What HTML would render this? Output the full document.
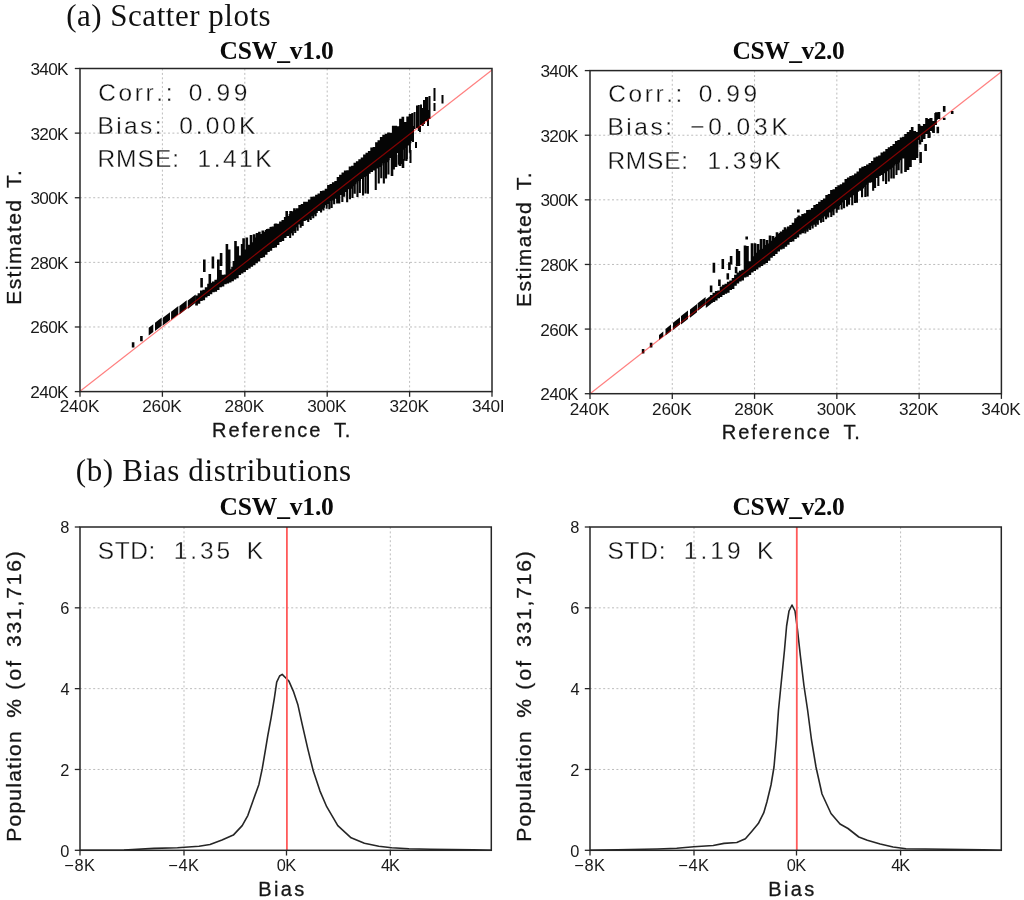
<!DOCTYPE html>
<html><head><meta charset="utf-8"><title>Scatter plots and bias distributions</title>
<style>html,body{margin:0;padding:0;background:#fff;overflow:hidden;} svg{display:block;will-change:transform;}</style></head>
<body><svg width="1024" height="900" viewBox="0 0 1024 900">
<rect width="1024" height="900" fill="#fff"/>
<text transform="translate(0,26.00) scale(1.0000,1)" x="66.14" y="0" font-family='"Liberation Serif", serif' font-size="31" font-weight="normal" letter-spacing="0.514" fill="#111" style="font-kerning:none" >(a) Scatter plots</text>
<text transform="translate(0,480.60) scale(1.0000,1)" x="75.74" y="0" font-family='"Liberation Serif", serif' font-size="31" font-weight="normal" letter-spacing="0.648" fill="#111" style="font-kerning:none" >(b) Bias distributions</text>
<text transform="translate(0,59.00) scale(1.0000,1)" x="219.55" y="0" font-family='"Liberation Serif", serif' font-size="25.5" font-weight="bold" letter-spacing="-0.165" fill="#0a0a0a" style="font-kerning:none" >CSW_v1.0</text>
<text transform="translate(0,59.00) scale(1.0000,1)" x="732.45" y="0" font-family='"Liberation Serif", serif' font-size="25.5" font-weight="bold" letter-spacing="-0.451" fill="#0a0a0a" style="font-kerning:none" >CSW_v2.0</text>
<text transform="translate(0,514.70) scale(1.0000,1)" x="219.55" y="0" font-family='"Liberation Serif", serif' font-size="25.5" font-weight="bold" letter-spacing="-0.165" fill="#0a0a0a" style="font-kerning:none" >CSW_v1.0</text>
<text transform="translate(0,514.70) scale(1.0000,1)" x="732.45" y="0" font-family='"Liberation Serif", serif' font-size="25.5" font-weight="bold" letter-spacing="-0.451" fill="#0a0a0a" style="font-kerning:none" >CSW_v2.0</text>
<defs><clipPath id="clipL"><rect x="0" y="0" width="503.0" height="900"/></clipPath></defs>
<line x1="162.40" y1="68.50" x2="162.40" y2="391.60" stroke="#bdbdbd" stroke-width="1" stroke-dasharray="2,2.4"/>
<line x1="80.00" y1="326.98" x2="492.00" y2="326.98" stroke="#bdbdbd" stroke-width="1" stroke-dasharray="2,2.4"/>
<line x1="244.80" y1="68.50" x2="244.80" y2="391.60" stroke="#bdbdbd" stroke-width="1" stroke-dasharray="2,2.4"/>
<line x1="80.00" y1="262.36" x2="492.00" y2="262.36" stroke="#bdbdbd" stroke-width="1" stroke-dasharray="2,2.4"/>
<line x1="327.20" y1="68.50" x2="327.20" y2="391.60" stroke="#bdbdbd" stroke-width="1" stroke-dasharray="2,2.4"/>
<line x1="80.00" y1="197.74" x2="492.00" y2="197.74" stroke="#bdbdbd" stroke-width="1" stroke-dasharray="2,2.4"/>
<line x1="409.60" y1="68.50" x2="409.60" y2="391.60" stroke="#bdbdbd" stroke-width="1" stroke-dasharray="2,2.4"/>
<line x1="80.00" y1="133.12" x2="492.00" y2="133.12" stroke="#bdbdbd" stroke-width="1" stroke-dasharray="2,2.4"/>
<path d="M195.2 295.6h2.7v9.8h-2.7zM197.6 293.2h2.7v10.6h-2.7zM200.0 290.4h2.7v10.7h-2.7zM202.4 289.7h2.7v10.6h-2.7zM204.8 287.2h2.7v10.3h-2.7zM207.2 283.8h2.7v12.2h-2.7zM209.6 282.7h2.7v11.6h-2.7zM212.0 281.6h2.7v10.6h-2.7zM214.4 279.8h2.7v11.9h-2.7zM216.8 278.4h2.7v11.5h-2.7zM219.2 276.5h2.7v10.8h-2.7zM221.6 274.8h2.7v11.8h-2.7zM224.0 274.4h2.7v9.9h-2.7zM226.4 270.9h2.7v12.6h-2.7zM228.8 269.2h2.7v13.4h-2.7zM231.2 266.8h2.7v14.5h-2.7zM233.6 263.7h2.7v15.9h-2.7zM236.0 259.7h2.7v18.5h-2.7zM238.4 255.4h2.7v19.7h-2.7zM240.8 254.4h2.7v19.1h-2.7zM243.2 249.4h2.7v22.7h-2.7zM245.6 247.3h2.7v22.7h-2.7zM248.0 244.7h2.7v23.7h-2.7zM250.4 242.2h2.7v24.5h-2.7zM252.8 239.6h2.7v25.6h-2.7zM255.2 237.5h2.7v25.8h-2.7zM257.6 235.2h2.7v26.2h-2.7zM260.0 233.9h2.7v24.2h-2.7zM262.4 231.8h2.7v25.5h-2.7zM264.8 230.0h2.7v24.7h-2.7zM267.1 228.8h2.7v23.3h-2.7zM269.5 226.9h2.7v23.8h-2.7zM271.9 226.6h2.7v21.3h-2.7zM274.3 223.6h2.7v23.8h-2.7zM276.7 223.8h2.7v21.2h-2.7zM279.1 221.4h2.7v20.7h-2.7zM281.5 220.0h2.7v21.0h-2.7zM283.9 217.0h2.7v21.0h-2.7zM286.3 216.0h2.7v19.9h-2.7zM288.7 214.0h2.7v20.3h-2.7zM291.1 211.3h2.7v21.7h-2.7zM293.5 210.0h2.7v20.9h-2.7zM295.9 208.2h2.7v19.2h-2.7zM298.3 205.1h2.7v19.4h-2.7zM300.7 204.1h2.7v19.0h-2.7zM303.1 201.7h2.7v19.3h-2.7zM305.5 201.7h2.7v18.6h-2.7zM307.9 199.6h2.7v19.1h-2.7zM310.3 196.8h2.7v19.3h-2.7zM312.7 196.5h2.7v18.0h-2.7zM315.1 194.7h2.7v18.2h-2.7zM317.5 193.4h2.7v17.7h-2.7zM319.9 190.9h2.7v18.3h-2.7zM322.3 190.4h2.7v17.4h-2.7zM324.7 188.8h2.7v16.5h-2.7zM327.1 185.0h2.7v19.0h-2.7zM329.5 184.0h2.7v17.4h-2.7zM331.9 182.2h2.7v18.3h-2.7zM334.3 180.9h2.7v17.9h-2.7zM336.7 177.1h2.7v19.1h-2.7zM339.1 174.8h2.7v20.2h-2.7zM341.5 172.5h2.7v20.6h-2.7zM343.9 170.4h2.7v21.6h-2.7zM346.3 170.2h2.7v19.0h-2.7zM348.7 166.6h2.7v22.1h-2.7zM351.1 165.7h2.7v20.5h-2.7zM353.5 162.8h2.7v21.5h-2.7zM355.9 161.2h2.7v21.3h-2.7zM358.3 159.2h2.7v21.9h-2.7zM360.7 157.5h2.7v21.6h-2.7zM363.1 154.4h2.7v22.5h-2.7zM365.5 152.8h2.7v23.4h-2.7zM367.9 150.9h2.7v22.8h-2.7zM370.3 147.5h2.7v24.5h-2.7zM372.7 146.9h2.7v23.6h-2.7zM375.1 142.3h2.7v26.1h-2.7zM377.5 140.3h2.7v26.6h-2.7zM379.9 137.0h2.7v28.4h-2.7zM382.3 134.8h2.7v28.5h-2.7zM384.7 133.8h2.7v28.4h-2.7zM387.1 132.5h2.7v27.8h-2.7zM389.5 132.7h2.7v25.4h-2.7zM391.9 125.8h2.7v30.6h-2.7zM394.3 125.7h2.7v30.0h-2.7zM396.7 126.3h2.7v26.8h-2.7zM399.1 118.8h2.7v33.1h-2.7zM401.5 116.8h2.7v33.0h-2.7zM403.9 121.9h2.7v25.9h-2.7zM406.3 116.5h2.7v29.0h-2.7zM408.7 113.9h2.7v29.4h-2.7zM131.8 342.2h2.6v5.3h-2.6zM140.1 336.0h2.6v5.2h-2.6zM200.3 277.9h2.6v9.7h-2.6zM203.0 259.6h2.6v12.4h-2.6zM208.5 274.0h2.6v9.7h-2.6zM211.6 256.5h2.6v12.0h-2.6zM217.0 259.6h2.6v20.4h-2.6zM219.8 253.0h2.6v13.0h-2.6zM219.2 270.0h2.6v12.0h-2.6zM225.6 244.0h2.6v32.0h-2.6zM227.9 249.5h2.6v23.5h-2.6zM232.6 261.0h2.6v10.0h-2.6zM234.2 240.9h2.6v27.1h-2.6zM236.5 246.3h2.6v18.7h-2.6zM238.8 257.0h2.6v5.0h-2.6zM240.8 244.0h2.6v14.0h-2.6zM242.3 238.2h2.6v19.8h-2.6zM245.5 237.4h2.6v18.6h-2.6zM247.4 247.9h2.6v4.1h-2.6zM249.7 235.0h2.6v15.0h-2.6zM252.8 234.3h2.6v13.7h-2.6zM255.7 233.0h2.6v13.0h-2.6zM258.1 231.7h2.6v12.3h-2.6zM261.5 230.5h2.6v12.5h-2.6zM263.7 232.0h2.6v8.0h-2.6zM265.9 228.9h2.6v7.1h-2.6zM268.2 231.0h2.6v5.0h-2.6zM270.4 226.7h2.6v7.3h-2.6zM273.7 223.9h2.6v6.1h-2.6zM276.7 226.0h2.6v3.0h-2.6zM279.7 224.0h2.6v4.0h-2.6zM282.6 220.5h2.6v6.5h-2.6zM285.4 211.1h2.6v10.9h-2.6zM289.3 211.0h2.6v9.0h-2.6zM293.1 208.3h2.6v6.7h-2.6zM390.7 160.0h2.6v16.0h-2.6zM394.7 155.0h2.6v12.0h-2.6zM398.7 150.0h2.6v16.0h-2.6zM401.7 159.0h2.6v9.0h-2.6zM405.5 140.0h2.0v21.0h-2.0zM409.5 150.0h2.0v13.0h-2.0zM412.0 126.0h2.0v16.0h-2.0zM415.0 142.0h2.0v6.0h-2.0zM419.0 126.0h2.0v6.0h-2.0zM427.0 110.0h2.0v16.0h-2.0zM433.5 88.0h2.0v13.0h-2.0zM433.5 103.0h2.0v8.0h-2.0zM441.5 95.0h2.0v8.5h-2.0zM425.0 97.0h2.0v24.0h-2.0zM428.5 96.0h2.0v23.0h-2.0zM420.0 104.5h2.0v20.5h-2.0zM416.0 105.5h2.0v22.5h-2.0zM423.0 100.0h2.0v24.0h-2.0zM417.8 105.0h2.0v26.0h-2.0zM421.8 108.0h2.0v18.0h-2.0zM411.3 113.0h2.0v28.0h-2.0zM413.6 112.0h2.0v17.0h-2.0zM426.2 97.0h2.0v15.0h-2.0zM289.1 232.9h2.1v5.0h-2.1zM291.8 230.5h2.1v5.0h-2.1zM294.2 228.1h2.1v5.0h-2.1zM296.6 225.7h2.1v5.0h-2.1zM299.6 222.8h2.1v5.0h-2.1zM301.6 220.9h2.1v5.0h-2.1zM307.2 217.1h2.1v5.0h-2.1zM309.7 215.1h2.1v5.0h-2.1zM312.2 213.2h2.1v5.0h-2.1zM314.6 211.3h2.1v5.0h-2.1zM320.0 207.5h2.1v5.0h-2.1zM322.4 205.6h2.1v5.0h-2.1zM325.6 203.7h2.1v5.1h-2.1zM328.3 201.8h2.1v7.5h-2.1zM330.6 199.9h2.1v8.0h-2.1zM333.1 198.0h2.1v6.2h-2.1zM336.1 196.1h2.1v7.5h-2.1zM338.2 194.1h2.1v9.3h-2.1zM341.3 192.2h2.1v9.9h-2.1zM343.2 190.3h2.1v6.4h-2.1zM346.1 188.4h2.1v13.8h-2.1zM348.9 186.5h2.1v12.8h-2.1zM351.4 184.6h2.1v13.5h-2.1zM353.7 182.7h2.1v11.0h-2.1zM356.4 180.8h2.1v16.3h-2.1zM358.8 178.9h2.1v14.0h-2.1zM362.0 177.0h2.1v18.4h-2.1zM364.5 175.1h2.1v18.4h-2.1zM366.9 173.3h2.1v20.5h-2.1zM374.7 167.7h2.1v22.4h-2.1zM377.7 165.8h2.1v17.8h-2.1zM380.2 164.0h2.1v14.2h-2.1zM382.8 162.1h2.1v21.3h-2.1zM385.0 160.2h2.1v18.4h-2.1zM387.4 158.4h2.1v16.0h-2.1zM390.7 156.5h2.1v19.6h-2.1zM392.8 154.6h2.1v14.8h-2.1zM397.8 150.9h2.1v13.8h-2.1zM401.0 149.0h2.1v15.1h-2.1zM403.3 147.2h2.1v13.6h-2.1zM405.8 144.8h2.1v14.4h-2.1zM408.8 142.2h2.1v10.6h-2.1z" fill="#050505"/>
<path d="M148.7 327.8L153.3 324.2L153.3 331.9L148.7 335.5zM155.0 322.8L161.7 317.5L161.7 325.8L155.0 331.1zM162.8 317.8L170.0 312.2L170.0 319.9L162.8 325.5zM171.1 311.7L178.3 306.1L178.3 314.4L171.1 320.0zM179.4 306.0L186.7 300.3L186.7 308.7L179.4 314.4zM187.8 300.5L195.6 294.4L195.6 302.8L187.8 308.9z" fill="#050505"/>
<line x1="80.00" y1="391.30" x2="492.00" y2="70.00" stroke="#ff0000" stroke-width="1.2" stroke-opacity="0.5"/>
<rect x="80.00" y="68.50" width="412.00" height="323.10" fill="none" stroke="#262626" stroke-width="1.5"/>
<line x1="80.00" y1="391.60" x2="80.00" y2="396.80" stroke="#262626" stroke-width="1.3" />
<line x1="74.80" y1="391.60" x2="80.00" y2="391.60" stroke="#262626" stroke-width="1.3" />
<text transform="translate(0,398.10) scale(1.0000,1)" x="30.23" y="0" font-family='"Liberation Sans", sans-serif' font-size="17.2" font-weight="normal" letter-spacing="-0.604" fill="#1a1a1a" style="font-kerning:none" >240K</text>
<line x1="162.40" y1="391.60" x2="162.40" y2="396.80" stroke="#262626" stroke-width="1.3" />
<line x1="74.80" y1="326.98" x2="80.00" y2="326.98" stroke="#262626" stroke-width="1.3" />
<text transform="translate(0,333.48) scale(1.0000,1)" x="30.23" y="0" font-family='"Liberation Sans", sans-serif' font-size="17.2" font-weight="normal" letter-spacing="-0.604" fill="#1a1a1a" style="font-kerning:none" >260K</text>
<line x1="244.80" y1="391.60" x2="244.80" y2="396.80" stroke="#262626" stroke-width="1.3" />
<line x1="74.80" y1="262.36" x2="80.00" y2="262.36" stroke="#262626" stroke-width="1.3" />
<text transform="translate(0,268.86) scale(1.0000,1)" x="30.23" y="0" font-family='"Liberation Sans", sans-serif' font-size="17.2" font-weight="normal" letter-spacing="-0.604" fill="#1a1a1a" style="font-kerning:none" >280K</text>
<line x1="327.20" y1="391.60" x2="327.20" y2="396.80" stroke="#262626" stroke-width="1.3" />
<line x1="74.80" y1="197.74" x2="80.00" y2="197.74" stroke="#262626" stroke-width="1.3" />
<text transform="translate(0,204.24) scale(1.0000,1)" x="30.44" y="0" font-family='"Liberation Sans", sans-serif' font-size="17.2" font-weight="normal" letter-spacing="-0.674" fill="#1a1a1a" style="font-kerning:none" >300K</text>
<line x1="409.60" y1="391.60" x2="409.60" y2="396.80" stroke="#262626" stroke-width="1.3" />
<line x1="74.80" y1="133.12" x2="80.00" y2="133.12" stroke="#262626" stroke-width="1.3" />
<text transform="translate(0,139.62) scale(1.0000,1)" x="30.44" y="0" font-family='"Liberation Sans", sans-serif' font-size="17.2" font-weight="normal" letter-spacing="-0.674" fill="#1a1a1a" style="font-kerning:none" >320K</text>
<line x1="492.00" y1="391.60" x2="492.00" y2="396.80" stroke="#262626" stroke-width="1.3" />
<line x1="74.80" y1="68.50" x2="80.00" y2="68.50" stroke="#262626" stroke-width="1.3" />
<text transform="translate(0,75.00) scale(1.0000,1)" x="30.44" y="0" font-family='"Liberation Sans", sans-serif' font-size="17.2" font-weight="normal" letter-spacing="-0.674" fill="#1a1a1a" style="font-kerning:none" >340K</text>
<g clip-path="url(#clipL)">
<text transform="translate(0,412.40) scale(1.0000,1)" x="59.73" y="0" font-family='"Liberation Sans", sans-serif' font-size="17.2" font-weight="normal" letter-spacing="-0.171" fill="#1a1a1a" style="font-kerning:none" >240K</text>
<text transform="translate(0,412.40) scale(1.0000,1)" x="142.13" y="0" font-family='"Liberation Sans", sans-serif' font-size="17.2" font-weight="normal" letter-spacing="-0.171" fill="#1a1a1a" style="font-kerning:none" >260K</text>
<text transform="translate(0,412.40) scale(1.0000,1)" x="224.53" y="0" font-family='"Liberation Sans", sans-serif' font-size="17.2" font-weight="normal" letter-spacing="-0.171" fill="#1a1a1a" style="font-kerning:none" >280K</text>
<text transform="translate(0,412.40) scale(1.0000,1)" x="307.14" y="0" font-family='"Liberation Sans", sans-serif' font-size="17.2" font-weight="normal" letter-spacing="-0.240" fill="#1a1a1a" style="font-kerning:none" >300K</text>
<text transform="translate(0,412.40) scale(1.0000,1)" x="389.54" y="0" font-family='"Liberation Sans", sans-serif' font-size="17.2" font-weight="normal" letter-spacing="-0.240" fill="#1a1a1a" style="font-kerning:none" >320K</text>
<text transform="translate(0,412.40) scale(1.0000,1)" x="471.94" y="0" font-family='"Liberation Sans", sans-serif' font-size="17.2" font-weight="normal" letter-spacing="-0.240" fill="#1a1a1a" style="font-kerning:none" >340K</text>
</g>
<text transform="translate(0,437.20) scale(1.0000,1)" x="212.11" y="0" font-family='"Liberation Sans", sans-serif' font-size="20" font-weight="normal" letter-spacing="2.000" fill="#161616" style="font-kerning:none" stroke="#161616" stroke-width="0.3">Reference</text>
<text transform="translate(0,437.20) scale(1.0000,1)" x="333.95" y="0" font-family='"Liberation Sans", sans-serif' font-size="20" font-weight="normal" letter-spacing="-1.498" fill="#161616" style="font-kerning:none" stroke="#161616" stroke-width="0.3">T.</text>
<text transform="translate(21.00,0) rotate(-90) scale(1.0000,1)" x="-304.72" y="0" font-family='"Liberation Sans", sans-serif' font-size="21" font-weight="normal" letter-spacing="1.413" fill="#161616" style="font-kerning:none" stroke="#161616" stroke-width="0.3">Estimated</text>
<text transform="translate(21.00,0) rotate(-90) scale(1.0000,1)" x="-187.97" y="0" font-family='"Liberation Sans", sans-serif' font-size="21" font-weight="normal" letter-spacing="-0.973" fill="#161616" style="font-kerning:none" stroke="#161616" stroke-width="0.3">T.</text>
<text transform="translate(0,100.80) scale(1.0000,1)" x="98.16" y="0" font-family='"Liberation Sans", sans-serif' font-size="24.5" font-weight="normal" letter-spacing="2.626" fill="#111" style="font-kerning:none" stroke="#fff" stroke-width="0.3">Corr.:</text>
<text transform="translate(0,100.80) scale(1.0000,1)" x="188.64" y="0" font-family='"Liberation Sans", sans-serif' font-size="24.5" font-weight="normal" letter-spacing="3.678" fill="#111" style="font-kerning:none" stroke="#fff" stroke-width="0.3">0.99</text>
<text transform="translate(0,133.60) scale(1.0000,1)" x="97.39" y="0" font-family='"Liberation Sans", sans-serif' font-size="24.5" font-weight="normal" letter-spacing="2.445" fill="#111" style="font-kerning:none" stroke="#fff" stroke-width="0.3">Bias:</text>
<text transform="translate(0,133.60) scale(1.0000,1)" x="179.24" y="0" font-family='"Liberation Sans", sans-serif' font-size="24.5" font-weight="normal" letter-spacing="3.002" fill="#111" style="font-kerning:none" stroke="#fff" stroke-width="0.3">0.00K</text>
<text transform="translate(0,166.80) scale(1.0000,1)" x="97.39" y="0" font-family='"Liberation Sans", sans-serif' font-size="24.5" font-weight="normal" letter-spacing="1.039" fill="#111" style="font-kerning:none" stroke="#fff" stroke-width="0.3">RMSE:</text>
<text transform="translate(0,166.80) scale(1.0000,1)" x="197.53" y="0" font-family='"Liberation Sans", sans-serif' font-size="24.5" font-weight="normal" letter-spacing="2.504" fill="#111" style="font-kerning:none" stroke="#fff" stroke-width="0.3">1.41K</text>
<line x1="672.28" y1="70.60" x2="672.28" y2="393.70" stroke="#bdbdbd" stroke-width="1" stroke-dasharray="2,2.4"/>
<line x1="590.00" y1="329.08" x2="1001.40" y2="329.08" stroke="#bdbdbd" stroke-width="1" stroke-dasharray="2,2.4"/>
<line x1="754.56" y1="70.60" x2="754.56" y2="393.70" stroke="#bdbdbd" stroke-width="1" stroke-dasharray="2,2.4"/>
<line x1="590.00" y1="264.46" x2="1001.40" y2="264.46" stroke="#bdbdbd" stroke-width="1" stroke-dasharray="2,2.4"/>
<line x1="836.84" y1="70.60" x2="836.84" y2="393.70" stroke="#bdbdbd" stroke-width="1" stroke-dasharray="2,2.4"/>
<line x1="590.00" y1="199.84" x2="1001.40" y2="199.84" stroke="#bdbdbd" stroke-width="1" stroke-dasharray="2,2.4"/>
<line x1="919.12" y1="70.60" x2="919.12" y2="393.70" stroke="#bdbdbd" stroke-width="1" stroke-dasharray="2,2.4"/>
<line x1="590.00" y1="135.22" x2="1001.40" y2="135.22" stroke="#bdbdbd" stroke-width="1" stroke-dasharray="2,2.4"/>
<path d="M710.1 294.9h2.7v8.1h-2.7zM712.5 292.7h2.7v9.2h-2.7zM714.9 290.9h2.7v9.5h-2.7zM717.3 290.4h2.7v7.9h-2.7zM719.7 286.6h2.7v10.5h-2.7zM722.1 284.8h2.7v10.1h-2.7zM724.5 283.8h2.7v9.9h-2.7zM726.9 281.7h2.7v11.0h-2.7zM729.3 280.6h2.7v9.4h-2.7zM731.7 277.9h2.7v11.1h-2.7zM734.1 274.8h2.7v11.0h-2.7zM736.5 272.5h2.7v11.1h-2.7zM738.9 270.7h2.7v10.8h-2.7zM741.3 269.8h2.7v10.8h-2.7zM743.7 267.0h2.7v10.6h-2.7zM746.1 262.6h2.7v14.1h-2.7zM748.5 261.2h2.7v13.7h-2.7zM750.9 258.0h2.7v14.6h-2.7zM753.3 256.2h2.7v14.9h-2.7zM755.7 252.7h2.7v16.8h-2.7zM758.1 249.8h2.7v17.6h-2.7zM760.5 248.8h2.7v17.2h-2.7zM762.9 247.2h2.7v17.3h-2.7zM765.3 244.9h2.7v18.1h-2.7zM767.7 243.5h2.7v17.3h-2.7zM770.1 240.8h2.7v17.0h-2.7zM772.5 237.8h2.7v18.2h-2.7zM774.9 236.8h2.7v17.3h-2.7zM777.3 234.0h2.7v17.5h-2.7zM779.7 231.5h2.7v18.1h-2.7zM782.1 229.8h2.7v19.0h-2.7zM784.5 229.2h2.7v17.6h-2.7zM786.9 226.5h2.7v18.2h-2.7zM789.3 225.1h2.7v16.8h-2.7zM791.7 222.7h2.7v18.7h-2.7zM794.1 220.6h2.7v18.5h-2.7zM796.5 217.1h2.7v20.4h-2.7zM798.9 216.2h2.7v18.4h-2.7zM801.3 214.1h2.7v19.2h-2.7zM803.7 213.2h2.7v18.1h-2.7zM806.1 210.0h2.7v19.6h-2.7zM808.5 209.8h2.7v18.6h-2.7zM810.9 207.9h2.7v17.9h-2.7zM813.3 205.1h2.7v19.7h-2.7zM815.7 203.9h2.7v19.1h-2.7zM818.1 201.7h2.7v18.6h-2.7zM820.5 200.1h2.7v18.2h-2.7zM822.9 198.4h2.7v18.0h-2.7zM825.3 195.0h2.7v20.9h-2.7zM827.7 193.9h2.7v18.7h-2.7zM830.1 190.1h2.7v21.5h-2.7zM832.5 189.2h2.7v20.1h-2.7zM834.9 186.9h2.7v21.5h-2.7zM837.3 185.3h2.7v20.7h-2.7zM839.7 184.2h2.7v20.7h-2.7zM842.1 182.5h2.7v20.0h-2.7zM844.5 179.1h2.7v21.0h-2.7zM846.9 177.6h2.7v22.0h-2.7zM849.3 176.0h2.7v21.5h-2.7zM851.7 175.3h2.7v20.0h-2.7zM854.1 173.5h2.7v20.7h-2.7zM856.5 171.4h2.7v20.4h-2.7zM858.9 168.3h2.7v22.4h-2.7zM861.3 166.7h2.7v21.7h-2.7zM863.7 166.0h2.7v21.1h-2.7zM866.1 164.4h2.7v20.3h-2.7zM868.5 162.9h2.7v19.9h-2.7zM870.9 160.9h2.7v21.4h-2.7zM873.3 157.6h2.7v22.4h-2.7zM875.7 156.6h2.7v21.3h-2.7zM878.1 155.6h2.7v20.4h-2.7zM880.5 152.4h2.7v22.7h-2.7zM882.9 151.5h2.7v21.7h-2.7zM885.3 148.9h2.7v22.4h-2.7zM887.7 147.2h2.7v22.3h-2.7zM890.1 145.9h2.7v21.8h-2.7zM892.5 144.1h2.7v21.4h-2.7zM894.9 141.1h2.7v22.9h-2.7zM897.3 140.1h2.7v22.5h-2.7zM899.7 137.5h2.7v22.8h-2.7zM902.1 136.8h2.7v21.6h-2.7zM804.2 229.1h2.1v4.5h-2.1zM806.5 227.2h2.1v4.5h-2.1zM809.1 225.6h2.1v4.5h-2.1zM811.6 223.7h2.1v4.8h-2.1zM814.6 221.8h2.1v5.0h-2.1zM816.8 219.8h2.1v5.0h-2.1zM819.9 217.8h2.1v5.0h-2.1zM822.2 215.9h2.1v6.1h-2.1zM825.0 213.9h2.1v5.4h-2.1zM827.2 211.9h2.1v5.6h-2.1zM830.2 210.0h2.1v7.0h-2.1zM832.5 208.0h2.1v7.3h-2.1zM835.6 206.1h2.1v6.7h-2.1zM837.6 204.1h2.1v5.6h-2.1zM840.6 202.2h2.1v7.3h-2.1zM843.0 200.2h2.1v8.0h-2.1zM846.0 198.2h2.1v8.4h-2.1zM848.0 196.3h2.1v8.4h-2.1zM851.2 194.4h2.1v10.8h-2.1zM853.9 192.5h2.1v10.4h-2.1zM855.9 190.7h2.1v12.0h-2.1zM861.0 186.9h2.1v10.4h-2.1zM864.3 185.0h2.1v11.9h-2.1zM866.6 183.2h2.1v13.2h-2.1zM872.1 179.4h2.1v11.4h-2.1zM874.0 177.6h2.1v10.3h-2.1zM877.3 175.7h2.1v10.4h-2.1zM882.2 171.9h2.1v9.3h-2.1zM885.0 169.9h2.1v14.0h-2.1zM887.7 167.9h2.1v13.5h-2.1zM890.3 166.0h2.1v12.4h-2.1zM892.7 164.0h2.1v14.5h-2.1zM895.4 162.1h2.1v12.8h-2.1zM897.6 160.1h2.1v10.1h-2.1zM900.4 158.2h2.1v15.2h-2.1zM641.8 348.9h2.6v4.6h-2.6zM649.8 342.8h2.6v4.6h-2.6zM709.8 285.6h2.6v6.6h-2.6zM712.6 262.8h2.6v10.0h-2.6zM718.1 279.4h2.6v6.7h-2.6zM721.5 258.9h2.6v10.0h-2.6zM726.5 273.3h2.6v6.1h-2.6zM728.1 262.2h2.6v7.8h-2.6zM729.8 256.1h2.6v8.3h-2.6zM734.8 266.7h2.6v6.6h-2.6zM735.9 248.9h2.6v17.1h-2.6zM737.6 251.1h2.6v14.9h-2.6zM743.7 245.6h2.6v21.4h-2.6zM746.2 246.0h2.6v21.0h-2.6zM745.4 236.5h2.6v3.0h-2.6zM797.0 209.5h2.6v3.0h-2.6zM750.7 243.3h2.6v18.7h-2.6zM753.7 243.3h2.6v18.7h-2.6zM756.7 244.0h2.6v14.0h-2.6zM759.7 238.9h2.6v17.1h-2.6zM762.7 239.0h2.6v16.0h-2.6zM765.7 240.0h2.6v12.0h-2.6zM768.7 235.6h2.6v14.4h-2.6zM771.7 236.0h2.6v13.0h-2.6zM775.7 232.2h2.6v13.8h-2.6zM778.7 233.0h2.6v11.0h-2.6zM780.7 233.0h2.6v11.0h-2.6zM783.7 227.2h2.6v12.8h-2.6zM786.7 228.0h2.6v10.0h-2.6zM789.7 227.0h2.6v9.0h-2.6zM791.7 223.3h2.6v8.7h-2.6zM794.3 218.3h2.6v11.7h-2.6zM797.6 215.6h2.6v10.4h-2.6zM904.2 134.0h2.6v38.0h-2.6zM906.7 132.0h2.6v38.0h-2.6zM909.2 130.0h2.6v37.0h-2.6zM910.9 127.0h2.6v33.0h-2.6zM913.5 131.0h2.6v29.0h-2.6zM915.7 132.0h2.6v26.0h-2.6zM918.7 125.6h2.6v10.0h-2.6zM918.7 140.0h2.6v4.4h-2.6zM919.3 152.0h2.6v11.0h-2.6zM922.2 127.8h2.6v11.2h-2.6zM924.3 143.9h2.6v7.2h-2.6zM925.9 118.9h2.6v13.3h-2.6zM928.1 132.2h2.6v5.6h-2.6zM929.2 118.3h2.6v10.6h-2.6zM931.9 125.6h2.6v6.6h-2.6zM935.1 112.2h2.6v7.8h-2.6zM936.5 126.7h2.6v6.6h-2.6zM937.7 112.0h2.6v7.0h-2.6zM942.9 106.0h2.6v5.7h-2.6zM942.9 117.8h2.6v2.2h-2.6zM950.9 111.0h2.6v3.0h-2.6zM917.7 124.0h2.6v16.0h-2.6zM920.5 126.0h2.6v16.0h-2.6zM922.9 124.0h2.6v15.0h-2.6zM925.2 118.0h2.6v16.0h-2.6zM927.4 119.0h2.6v19.0h-2.6zM929.9 118.0h2.6v13.0h-2.6zM932.3 121.0h2.6v12.0h-2.6zM934.3 113.0h2.6v12.0h-2.6z" fill="#050505"/>
<path d="M659.0 335.0L663.3 331.6L663.3 336.6L659.0 340.0zM665.5 328.9L671.0 324.6L671.0 331.3L665.5 335.6zM673.0 322.8L680.0 317.3L680.0 324.5L673.0 330.0zM681.0 316.0L688.0 310.5L688.0 318.9L681.0 324.4zM690.0 309.4L697.0 303.9L697.0 312.3L690.0 317.8zM697.6 303.3L705.6 297.0L705.6 304.7L697.6 311.0zM705.8 299.4L711.5 294.9L711.5 303.5L705.8 308.0z" fill="#050505"/>
<line x1="590.00" y1="393.70" x2="1001.40" y2="71.80" stroke="#ff0000" stroke-width="1.2" stroke-opacity="0.5"/>
<rect x="590.00" y="70.60" width="411.40" height="323.10" fill="none" stroke="#262626" stroke-width="1.5"/>
<line x1="590.00" y1="393.70" x2="590.00" y2="398.90" stroke="#262626" stroke-width="1.3" />
<line x1="584.80" y1="393.70" x2="590.00" y2="393.70" stroke="#262626" stroke-width="1.3" />
<text transform="translate(0,400.20) scale(1.0000,1)" x="540.23" y="0" font-family='"Liberation Sans", sans-serif' font-size="17.2" font-weight="normal" letter-spacing="-0.604" fill="#1a1a1a" style="font-kerning:none" >240K</text>
<line x1="672.28" y1="393.70" x2="672.28" y2="398.90" stroke="#262626" stroke-width="1.3" />
<line x1="584.80" y1="329.08" x2="590.00" y2="329.08" stroke="#262626" stroke-width="1.3" />
<text transform="translate(0,335.58) scale(1.0000,1)" x="540.23" y="0" font-family='"Liberation Sans", sans-serif' font-size="17.2" font-weight="normal" letter-spacing="-0.604" fill="#1a1a1a" style="font-kerning:none" >260K</text>
<line x1="754.56" y1="393.70" x2="754.56" y2="398.90" stroke="#262626" stroke-width="1.3" />
<line x1="584.80" y1="264.46" x2="590.00" y2="264.46" stroke="#262626" stroke-width="1.3" />
<text transform="translate(0,270.96) scale(1.0000,1)" x="540.23" y="0" font-family='"Liberation Sans", sans-serif' font-size="17.2" font-weight="normal" letter-spacing="-0.604" fill="#1a1a1a" style="font-kerning:none" >280K</text>
<line x1="836.84" y1="393.70" x2="836.84" y2="398.90" stroke="#262626" stroke-width="1.3" />
<line x1="584.80" y1="199.84" x2="590.00" y2="199.84" stroke="#262626" stroke-width="1.3" />
<text transform="translate(0,206.34) scale(1.0000,1)" x="540.44" y="0" font-family='"Liberation Sans", sans-serif' font-size="17.2" font-weight="normal" letter-spacing="-0.674" fill="#1a1a1a" style="font-kerning:none" >300K</text>
<line x1="919.12" y1="393.70" x2="919.12" y2="398.90" stroke="#262626" stroke-width="1.3" />
<line x1="584.80" y1="135.22" x2="590.00" y2="135.22" stroke="#262626" stroke-width="1.3" />
<text transform="translate(0,141.72) scale(1.0000,1)" x="540.44" y="0" font-family='"Liberation Sans", sans-serif' font-size="17.2" font-weight="normal" letter-spacing="-0.674" fill="#1a1a1a" style="font-kerning:none" >320K</text>
<line x1="1001.40" y1="393.70" x2="1001.40" y2="398.90" stroke="#262626" stroke-width="1.3" />
<line x1="584.80" y1="70.60" x2="590.00" y2="70.60" stroke="#262626" stroke-width="1.3" />
<text transform="translate(0,77.10) scale(1.0000,1)" x="540.44" y="0" font-family='"Liberation Sans", sans-serif' font-size="17.2" font-weight="normal" letter-spacing="-0.674" fill="#1a1a1a" style="font-kerning:none" >340K</text>
<text transform="translate(0,414.50) scale(1.0000,1)" x="569.73" y="0" font-family='"Liberation Sans", sans-serif' font-size="17.2" font-weight="normal" letter-spacing="-0.171" fill="#1a1a1a" style="font-kerning:none" >240K</text>
<text transform="translate(0,414.50) scale(1.0000,1)" x="652.01" y="0" font-family='"Liberation Sans", sans-serif' font-size="17.2" font-weight="normal" letter-spacing="-0.171" fill="#1a1a1a" style="font-kerning:none" >260K</text>
<text transform="translate(0,414.50) scale(1.0000,1)" x="734.29" y="0" font-family='"Liberation Sans", sans-serif' font-size="17.2" font-weight="normal" letter-spacing="-0.171" fill="#1a1a1a" style="font-kerning:none" >280K</text>
<text transform="translate(0,414.50) scale(1.0000,1)" x="816.78" y="0" font-family='"Liberation Sans", sans-serif' font-size="17.2" font-weight="normal" letter-spacing="-0.240" fill="#1a1a1a" style="font-kerning:none" >300K</text>
<text transform="translate(0,414.50) scale(1.0000,1)" x="899.06" y="0" font-family='"Liberation Sans", sans-serif' font-size="17.2" font-weight="normal" letter-spacing="-0.240" fill="#1a1a1a" style="font-kerning:none" >320K</text>
<text transform="translate(0,414.50) scale(1.0000,1)" x="981.34" y="0" font-family='"Liberation Sans", sans-serif' font-size="17.2" font-weight="normal" letter-spacing="-0.240" fill="#1a1a1a" style="font-kerning:none" >340K</text>
<text transform="translate(0,439.40) scale(1.0000,1)" x="721.71" y="0" font-family='"Liberation Sans", sans-serif' font-size="20" font-weight="normal" letter-spacing="2.000" fill="#161616" style="font-kerning:none" stroke="#161616" stroke-width="0.3">Reference</text>
<text transform="translate(0,439.40) scale(1.0000,1)" x="843.55" y="0" font-family='"Liberation Sans", sans-serif' font-size="20" font-weight="normal" letter-spacing="-1.498" fill="#161616" style="font-kerning:none" stroke="#161616" stroke-width="0.3">T.</text>
<text transform="translate(530.60,0) rotate(-90) scale(1.0000,1)" x="-306.92" y="0" font-family='"Liberation Sans", sans-serif' font-size="21" font-weight="normal" letter-spacing="1.413" fill="#161616" style="font-kerning:none" stroke="#161616" stroke-width="0.3">Estimated</text>
<text transform="translate(530.60,0) rotate(-90) scale(1.0000,1)" x="-190.17" y="0" font-family='"Liberation Sans", sans-serif' font-size="21" font-weight="normal" letter-spacing="-0.973" fill="#161616" style="font-kerning:none" stroke="#161616" stroke-width="0.3">T.</text>
<text transform="translate(0,102.40) scale(1.0000,1)" x="608.16" y="0" font-family='"Liberation Sans", sans-serif' font-size="24.5" font-weight="normal" letter-spacing="2.586" fill="#111" style="font-kerning:none" stroke="#fff" stroke-width="0.3">Corr.:</text>
<text transform="translate(0,102.40) scale(1.0000,1)" x="698.64" y="0" font-family='"Liberation Sans", sans-serif' font-size="24.5" font-weight="normal" letter-spacing="3.578" fill="#111" style="font-kerning:none" stroke="#fff" stroke-width="0.3">0.99</text>
<text transform="translate(0,135.40) scale(1.0000,1)" x="607.39" y="0" font-family='"Liberation Sans", sans-serif' font-size="24.5" font-weight="normal" letter-spacing="2.570" fill="#111" style="font-kerning:none" stroke="#fff" stroke-width="0.3">Bias:</text>
<text transform="translate(0,135.40) scale(1.0000,1)" x="690.19" y="0" font-family='"Liberation Sans", sans-serif' font-size="24.5" font-weight="normal" letter-spacing="3.850" fill="#111" style="font-kerning:none" stroke="#fff" stroke-width="0.3">−0.03K</text>
<text transform="translate(0,168.60) scale(1.0000,1)" x="607.39" y="0" font-family='"Liberation Sans", sans-serif' font-size="24.5" font-weight="normal" letter-spacing="0.789" fill="#111" style="font-kerning:none" stroke="#fff" stroke-width="0.3">RMSE:</text>
<text transform="translate(0,168.60) scale(1.0000,1)" x="707.53" y="0" font-family='"Liberation Sans", sans-serif' font-size="24.5" font-weight="normal" letter-spacing="2.354" fill="#111" style="font-kerning:none" stroke="#fff" stroke-width="0.3">1.39K</text>
<line x1="184.00" y1="527.00" x2="184.00" y2="850.30" stroke="#bdbdbd" stroke-width="1" stroke-dasharray="2,2.4"/>
<line x1="390.30" y1="527.00" x2="390.30" y2="850.30" stroke="#bdbdbd" stroke-width="1" stroke-dasharray="2,2.4"/>
<line x1="80.00" y1="769.47" x2="491.30" y2="769.47" stroke="#bdbdbd" stroke-width="1" stroke-dasharray="2,2.4"/>
<line x1="80.00" y1="688.65" x2="491.30" y2="688.65" stroke="#bdbdbd" stroke-width="1" stroke-dasharray="2,2.4"/>
<line x1="80.00" y1="607.83" x2="491.30" y2="607.83" stroke="#bdbdbd" stroke-width="1" stroke-dasharray="2,2.4"/>
<polyline points="80.0,850.3 124.0,850.0 154.0,848.4 177.5,847.7 199.0,846.2 210.0,844.5 222.0,840.0 233.3,835.1 242.2,825.6 247.8,815.6 253.3,800.0 258.9,784.4 262.2,768.9 265.6,748.9 267.8,735.6 271.1,717.8 274.4,697.8 276.7,682.2 279.6,676.0 282.2,674.4 285.6,677.8 288.9,681.1 293.3,691.1 297.8,704.4 302.2,724.4 307.8,748.9 313.3,771.1 320.0,791.1 326.7,806.7 337.8,825.6 351.1,837.8 364.4,843.3 378.8,846.2 391.7,847.7 408.9,848.8 430.4,849.3 473.4,849.8 491.0,850.2" fill="none" stroke="#262626" stroke-width="1.6" stroke-linejoin="round"/>
<line x1="286.90" y1="527.00" x2="286.90" y2="850.30" stroke="#ff5a5a" stroke-width="1.8" />
<rect x="80.00" y="527.00" width="411.30" height="323.30" fill="none" stroke="#262626" stroke-width="1.5"/>
<line x1="74.80" y1="850.30" x2="80.00" y2="850.30" stroke="#262626" stroke-width="1.3" />
<text transform="translate(0,856.60) scale(1.0000,1)" x="60.36" y="0" font-family='"Liberation Sans", sans-serif' font-size="16.4" font-weight="normal" letter-spacing="0.000" fill="#1a1a1a" style="font-kerning:none" >0</text>
<line x1="74.80" y1="769.47" x2="80.00" y2="769.47" stroke="#262626" stroke-width="1.3" />
<text transform="translate(0,775.77) scale(1.0000,1)" x="60.18" y="0" font-family='"Liberation Sans", sans-serif' font-size="16.4" font-weight="normal" letter-spacing="0.000" fill="#1a1a1a" style="font-kerning:none" >2</text>
<line x1="74.80" y1="688.65" x2="80.00" y2="688.65" stroke="#262626" stroke-width="1.3" />
<text transform="translate(0,694.95) scale(1.0000,1)" x="60.62" y="0" font-family='"Liberation Sans", sans-serif' font-size="16.4" font-weight="normal" letter-spacing="0.000" fill="#1a1a1a" style="font-kerning:none" >4</text>
<line x1="74.80" y1="607.83" x2="80.00" y2="607.83" stroke="#262626" stroke-width="1.3" />
<text transform="translate(0,614.12) scale(1.0000,1)" x="60.17" y="0" font-family='"Liberation Sans", sans-serif' font-size="16.4" font-weight="normal" letter-spacing="0.000" fill="#1a1a1a" style="font-kerning:none" >6</text>
<line x1="74.80" y1="527.00" x2="80.00" y2="527.00" stroke="#262626" stroke-width="1.3" />
<text transform="translate(0,533.30) scale(1.0000,1)" x="60.29" y="0" font-family='"Liberation Sans", sans-serif' font-size="16.4" font-weight="normal" letter-spacing="0.000" fill="#1a1a1a" style="font-kerning:none" >8</text>
<line x1="80.00" y1="850.30" x2="80.00" y2="855.50" stroke="#262626" stroke-width="1.3" />
<text transform="translate(0,871.30) scale(1.0000,1)" x="64.29" y="0" font-family='"Liberation Sans", sans-serif' font-size="16.4" font-weight="normal" letter-spacing="0.578" fill="#1a1a1a" style="font-kerning:none" >−8K</text>
<line x1="184.00" y1="850.30" x2="184.00" y2="855.50" stroke="#262626" stroke-width="1.3" />
<text transform="translate(0,871.30) scale(1.0000,1)" x="168.29" y="0" font-family='"Liberation Sans", sans-serif' font-size="16.4" font-weight="normal" letter-spacing="0.578" fill="#1a1a1a" style="font-kerning:none" >−4K</text>
<line x1="286.50" y1="850.30" x2="286.50" y2="855.50" stroke="#262626" stroke-width="1.3" />
<text transform="translate(0,871.30) scale(1.0000,1)" x="276.86" y="0" font-family='"Liberation Sans", sans-serif' font-size="16.4" font-weight="normal" letter-spacing="-0.835" fill="#1a1a1a" style="font-kerning:none" >0K</text>
<line x1="390.30" y1="850.30" x2="390.30" y2="855.50" stroke="#262626" stroke-width="1.3" />
<text transform="translate(0,871.30) scale(1.0000,1)" x="380.92" y="0" font-family='"Liberation Sans", sans-serif' font-size="16.4" font-weight="normal" letter-spacing="-1.099" fill="#1a1a1a" style="font-kerning:none" >4K</text>
<text transform="translate(0,895.80) scale(1.0000,1)" x="258.36" y="0" font-family='"Liberation Sans", sans-serif' font-size="20" font-weight="normal" letter-spacing="2.319" fill="#161616" style="font-kerning:none" stroke="#161616" stroke-width="0.3">Bias</text>
<text transform="translate(21.00,0) rotate(-90) scale(1.0000,1)" x="-841.72" y="0" font-family='"Liberation Sans", sans-serif' font-size="21" font-weight="normal" letter-spacing="1.227" fill="#161616" style="font-kerning:none" stroke="#161616" stroke-width="0.3">Population</text>
<text transform="translate(21.00,0) rotate(-90) scale(1.0000,1)" x="-717.75" y="0" font-family='"Liberation Sans", sans-serif' font-size="21" font-weight="normal" letter-spacing="0.000" fill="#161616" style="font-kerning:none" stroke="#161616" stroke-width="0.3">%</text>
<text transform="translate(21.00,0) rotate(-90) scale(1.0000,1)" x="-689.70" y="0" font-family='"Liberation Sans", sans-serif' font-size="21" font-weight="normal" letter-spacing="2.132" fill="#161616" style="font-kerning:none" stroke="#161616" stroke-width="0.3">(of</text>
<text transform="translate(21.00,0) rotate(-90) scale(1.0000,1)" x="-647.10" y="0" font-family='"Liberation Sans", sans-serif' font-size="21" font-weight="normal" letter-spacing="1.857" fill="#161616" style="font-kerning:none" stroke="#161616" stroke-width="0.3">331,716)</text>
<text transform="translate(0,559.10) scale(1.0000,1)" x="97.79" y="0" font-family='"Liberation Sans", sans-serif' font-size="24.5" font-weight="normal" letter-spacing="0.581" fill="#111" style="font-kerning:none" stroke="#fff" stroke-width="0.3">STD:</text>
<text transform="translate(0,559.10) scale(1.0000,1)" x="173.83" y="0" font-family='"Liberation Sans", sans-serif' font-size="24.5" font-weight="normal" letter-spacing="2.904" fill="#111" style="font-kerning:none" stroke="#fff" stroke-width="0.3">1.35</text>
<text transform="translate(0,559.10) scale(1.0000,1)" x="246.69" y="0" font-family='"Liberation Sans", sans-serif' font-size="24.5" font-weight="normal" letter-spacing="0.000" fill="#111" style="font-kerning:none" stroke="#fff" stroke-width="0.3">K</text>
<line x1="694.00" y1="527.00" x2="694.00" y2="850.30" stroke="#bdbdbd" stroke-width="1" stroke-dasharray="2,2.4"/>
<line x1="900.60" y1="527.00" x2="900.60" y2="850.30" stroke="#bdbdbd" stroke-width="1" stroke-dasharray="2,2.4"/>
<line x1="590.00" y1="769.47" x2="1001.30" y2="769.47" stroke="#bdbdbd" stroke-width="1" stroke-dasharray="2,2.4"/>
<line x1="590.00" y1="688.65" x2="1001.30" y2="688.65" stroke="#bdbdbd" stroke-width="1" stroke-dasharray="2,2.4"/>
<line x1="590.00" y1="607.83" x2="1001.30" y2="607.83" stroke="#bdbdbd" stroke-width="1" stroke-dasharray="2,2.4"/>
<polyline points="590.0,850.3 617.6,849.8 657.3,849.0 676.7,848.3 693.9,846.8 713.2,845.5 724.0,843.4 736.8,842.5 745.4,838.7 751.9,831.2 758.3,823.6 763.7,812.9 766.9,802.0 771.0,785.0 774.0,767.0 776.4,740.0 778.5,710.0 781.5,680.0 784.5,650.0 786.6,626.0 789.0,611.0 792.0,605.0 795.0,611.0 797.4,629.0 800.4,656.0 804.0,686.0 807.6,710.0 811.5,740.0 816.0,767.0 822.0,794.0 831.0,813.5 840.0,824.0 848.0,828.5 858.8,837.0 867.3,840.2 880.2,844.0 893.1,847.0 906.0,848.8 983.4,849.8 1001.0,850.2" fill="none" stroke="#262626" stroke-width="1.6" stroke-linejoin="round"/>
<line x1="796.80" y1="527.00" x2="796.80" y2="850.30" stroke="#ff5a5a" stroke-width="1.8" />
<rect x="590.00" y="527.00" width="411.30" height="323.30" fill="none" stroke="#262626" stroke-width="1.5"/>
<line x1="584.80" y1="850.30" x2="590.00" y2="850.30" stroke="#262626" stroke-width="1.3" />
<text transform="translate(0,856.60) scale(1.0000,1)" x="570.36" y="0" font-family='"Liberation Sans", sans-serif' font-size="16.4" font-weight="normal" letter-spacing="0.000" fill="#1a1a1a" style="font-kerning:none" >0</text>
<line x1="584.80" y1="769.47" x2="590.00" y2="769.47" stroke="#262626" stroke-width="1.3" />
<text transform="translate(0,775.77) scale(1.0000,1)" x="570.18" y="0" font-family='"Liberation Sans", sans-serif' font-size="16.4" font-weight="normal" letter-spacing="0.000" fill="#1a1a1a" style="font-kerning:none" >2</text>
<line x1="584.80" y1="688.65" x2="590.00" y2="688.65" stroke="#262626" stroke-width="1.3" />
<text transform="translate(0,694.95) scale(1.0000,1)" x="570.62" y="0" font-family='"Liberation Sans", sans-serif' font-size="16.4" font-weight="normal" letter-spacing="0.000" fill="#1a1a1a" style="font-kerning:none" >4</text>
<line x1="584.80" y1="607.83" x2="590.00" y2="607.83" stroke="#262626" stroke-width="1.3" />
<text transform="translate(0,614.12) scale(1.0000,1)" x="570.17" y="0" font-family='"Liberation Sans", sans-serif' font-size="16.4" font-weight="normal" letter-spacing="0.000" fill="#1a1a1a" style="font-kerning:none" >6</text>
<line x1="584.80" y1="527.00" x2="590.00" y2="527.00" stroke="#262626" stroke-width="1.3" />
<text transform="translate(0,533.30) scale(1.0000,1)" x="570.29" y="0" font-family='"Liberation Sans", sans-serif' font-size="16.4" font-weight="normal" letter-spacing="0.000" fill="#1a1a1a" style="font-kerning:none" >8</text>
<line x1="590.00" y1="850.30" x2="590.00" y2="855.50" stroke="#262626" stroke-width="1.3" />
<text transform="translate(0,871.30) scale(1.0000,1)" x="574.29" y="0" font-family='"Liberation Sans", sans-serif' font-size="16.4" font-weight="normal" letter-spacing="0.578" fill="#1a1a1a" style="font-kerning:none" >−8K</text>
<line x1="694.00" y1="850.30" x2="694.00" y2="855.50" stroke="#262626" stroke-width="1.3" />
<text transform="translate(0,871.30) scale(1.0000,1)" x="678.29" y="0" font-family='"Liberation Sans", sans-serif' font-size="16.4" font-weight="normal" letter-spacing="0.578" fill="#1a1a1a" style="font-kerning:none" >−4K</text>
<line x1="796.50" y1="850.30" x2="796.50" y2="855.50" stroke="#262626" stroke-width="1.3" />
<text transform="translate(0,871.30) scale(1.0000,1)" x="786.86" y="0" font-family='"Liberation Sans", sans-serif' font-size="16.4" font-weight="normal" letter-spacing="-0.835" fill="#1a1a1a" style="font-kerning:none" >0K</text>
<line x1="900.60" y1="850.30" x2="900.60" y2="855.50" stroke="#262626" stroke-width="1.3" />
<text transform="translate(0,871.30) scale(1.0000,1)" x="891.22" y="0" font-family='"Liberation Sans", sans-serif' font-size="16.4" font-weight="normal" letter-spacing="-1.099" fill="#1a1a1a" style="font-kerning:none" >4K</text>
<text transform="translate(0,895.80) scale(1.0000,1)" x="768.36" y="0" font-family='"Liberation Sans", sans-serif' font-size="20" font-weight="normal" letter-spacing="2.319" fill="#161616" style="font-kerning:none" stroke="#161616" stroke-width="0.3">Bias</text>
<text transform="translate(531.00,0) rotate(-90) scale(1.0000,1)" x="-841.72" y="0" font-family='"Liberation Sans", sans-serif' font-size="21" font-weight="normal" letter-spacing="1.227" fill="#161616" style="font-kerning:none" stroke="#161616" stroke-width="0.3">Population</text>
<text transform="translate(531.00,0) rotate(-90) scale(1.0000,1)" x="-717.75" y="0" font-family='"Liberation Sans", sans-serif' font-size="21" font-weight="normal" letter-spacing="0.000" fill="#161616" style="font-kerning:none" stroke="#161616" stroke-width="0.3">%</text>
<text transform="translate(531.00,0) rotate(-90) scale(1.0000,1)" x="-689.70" y="0" font-family='"Liberation Sans", sans-serif' font-size="21" font-weight="normal" letter-spacing="2.132" fill="#161616" style="font-kerning:none" stroke="#161616" stroke-width="0.3">(of</text>
<text transform="translate(531.00,0) rotate(-90) scale(1.0000,1)" x="-647.10" y="0" font-family='"Liberation Sans", sans-serif' font-size="21" font-weight="normal" letter-spacing="1.857" fill="#161616" style="font-kerning:none" stroke="#161616" stroke-width="0.3">331,716)</text>
<text transform="translate(0,559.10) scale(1.0000,1)" x="607.49" y="0" font-family='"Liberation Sans", sans-serif' font-size="24.5" font-weight="normal" letter-spacing="0.748" fill="#111" style="font-kerning:none" stroke="#fff" stroke-width="0.3">STD:</text>
<text transform="translate(0,559.10) scale(1.0000,1)" x="683.73" y="0" font-family='"Liberation Sans", sans-serif' font-size="24.5" font-weight="normal" letter-spacing="3.048" fill="#111" style="font-kerning:none" stroke="#fff" stroke-width="0.3">1.19</text>
<text transform="translate(0,559.10) scale(1.0000,1)" x="756.89" y="0" font-family='"Liberation Sans", sans-serif' font-size="24.5" font-weight="normal" letter-spacing="0.000" fill="#111" style="font-kerning:none" stroke="#fff" stroke-width="0.3">K</text>
</svg></body></html>
